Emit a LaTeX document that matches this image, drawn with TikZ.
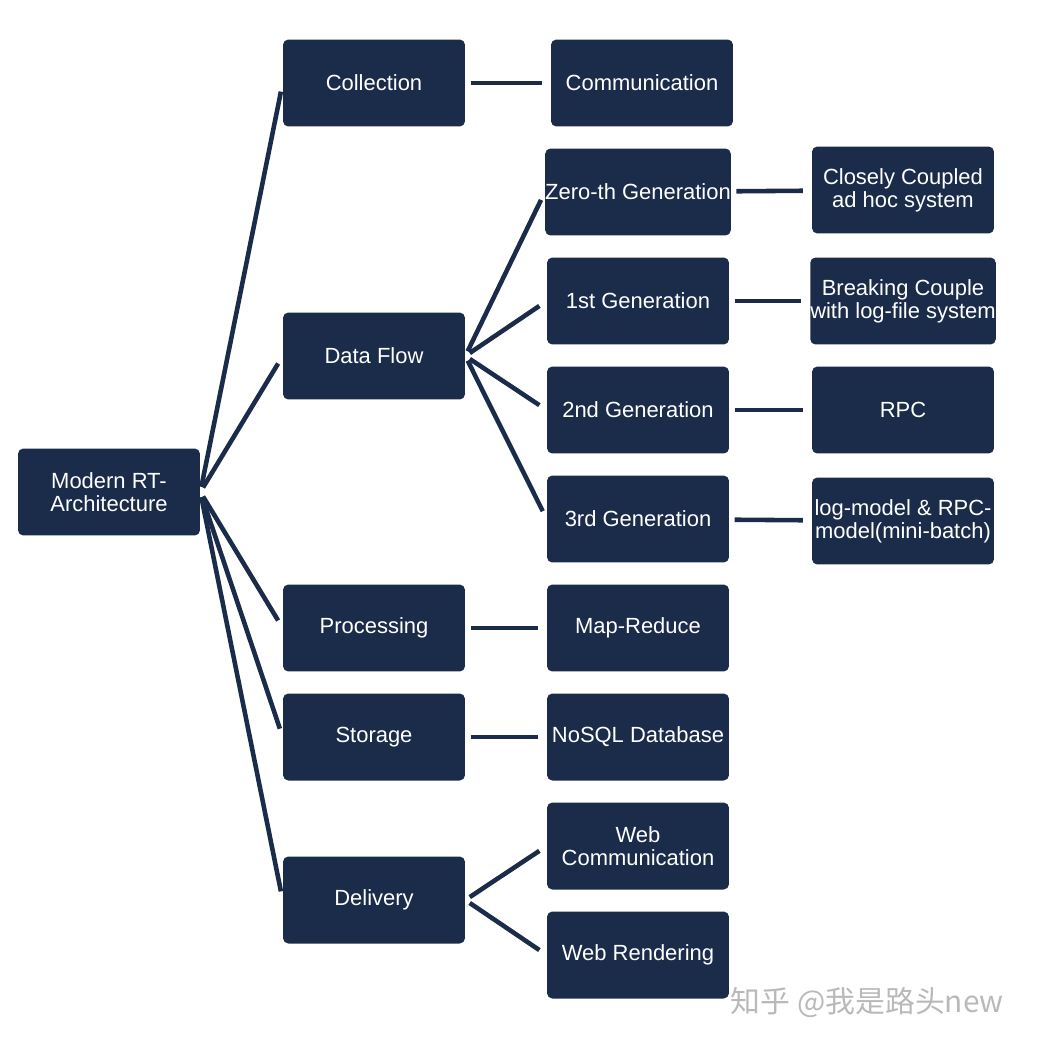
\documentclass[tikz,border=0pt]{standalone}
\usepackage{fontspec}
\setmainfont{Liberation Sans}
\newfontfamily\cjk{Noto Sans CJK SC}
\definecolor{navy}{HTML}{1B2C4A}
\begin{document}
\begin{tikzpicture}[x=0.02cm,y=-0.02cm,
 box/.style={fill=navy,draw=none,rounded corners=3pt,minimum width=3.64cm,minimum height=1.74cm,text=white,align=center,font=\fontsize{12.5}{13}\selectfont,inner sep=0pt},
 ln/.style={draw=navy,line width=2.6pt,shorten >=5pt,shorten <=3pt}]
\useasboundingbox (0,0) rectangle (1036,1048);
\node[box] (root) at (109,492) {Modern RT-\\Architecture};
\node[box] (col) at (374,83) {Collection};
\node[box] (com) at (642,83) {Communication};
\node[box] (df) at (374,356) {Data Flow};
\node[box] (g0) at (638,192) {Zero-th Generation};
\node[box] (g1) at (638,301) {1st Generation};
\node[box] (g2) at (638,410) {2nd Generation};
\node[box] (g3) at (638,519) {3rd Generation};
\node[box] (c0) at (903,190) {Closely Coupled\\ad hoc system};
\node[box] (c1) at (903,301) {Breaking Couple\\with log-file system};
\node[box] (c2) at (903,410) {RPC};
\node[box] (c3) at (903,521) {log-model \& RPC-\\model(mini-batch)};
\node[box] (pro) at (374,628) {Processing};
\node[box] (mr) at (638,628) {Map-Reduce};
\node[box] (sto) at (374,737) {Storage};
\node[box] (nos) at (638,737) {NoSQL Database};
\node[box] (del) at (374,900) {Delivery};
\node[box] (wc) at (638,846) {Web\\Communication};
\node[box] (wr) at (638,955) {Web Rendering};
\foreach \t in {col,df,pro,sto,del} \draw[ln] (root.east) -- (\t.west);
\foreach \t in {g0,g1,g2,g3} \draw[ln] (df.east) -- (\t.west);
\foreach \t in {wc,wr} \draw[ln] (del.east) -- (\t.west);
\draw[ln] (col) -- (com);
\draw[ln] (pro) -- (mr);
\draw[ln] (sto) -- (nos);
\draw[ln] (g0) -- (c0);
\draw[ln] (g1) -- (c1);
\draw[ln] (g2) -- (c2);
\draw[ln] (g3) -- (c3);
\node[text=gray!55,font=\cjk\fontsize{17}{18}\selectfont,anchor=east] (wm) at (1010,1003) {知乎 @我是路头new};
\end{tikzpicture}
\end{document}
